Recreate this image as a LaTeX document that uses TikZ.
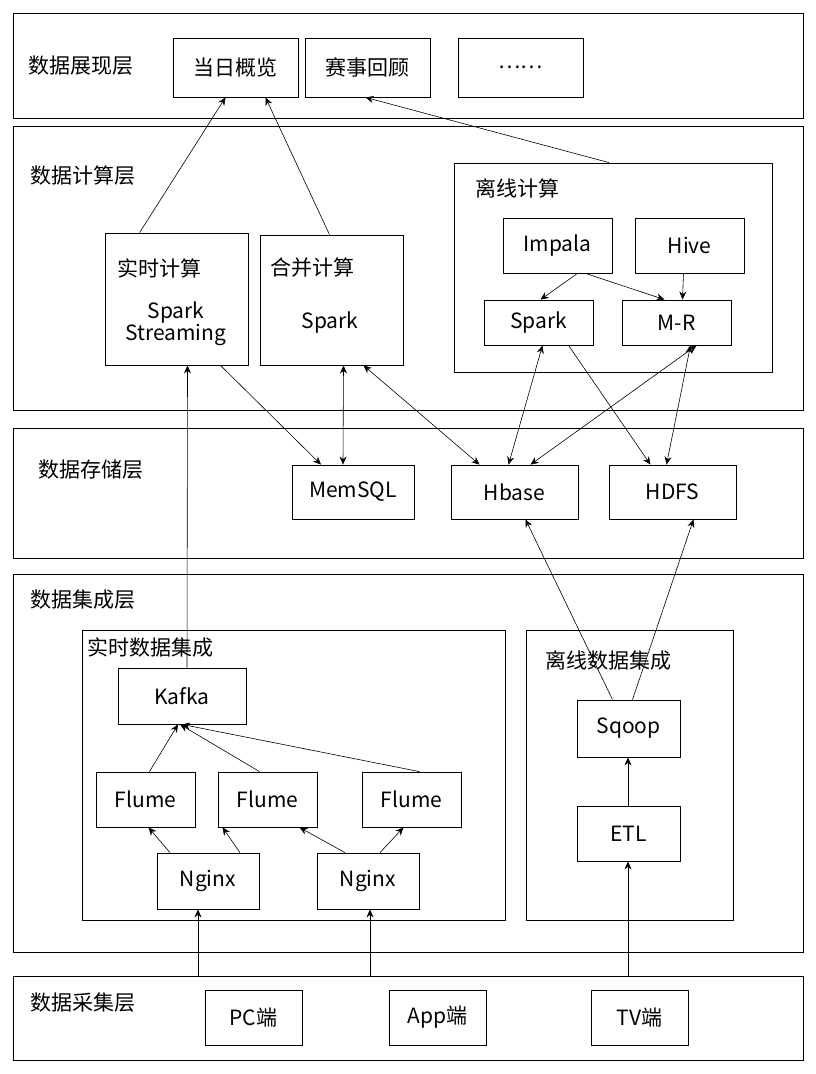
\documentclass[tikz,border=0pt]{standalone}
\usepackage{fontspec}
\setmainfont{Noto Sans CJK SC}
\usetikzlibrary{arrows.meta}
\tikzset{
  bx/.style={draw, thick, inner sep=0pt, font=\fontsize{21pt}{24pt}\selectfont, align=center},
  lbl/.style={inner sep=0pt, anchor=west, font=\fontsize{21pt}{24pt}\selectfont},
  ar/.style={-{Stealth[length=8pt,width=7pt]}, semithick},
  br/.style={{Stealth[length=8pt,width=7pt]}-{Stealth[length=8pt,width=7pt]}, semithick}
}
% \bx{name}{x1}{y1}{x2}{y2}{text}
\newcommand{\bxn}[6]{\node[bx, minimum width={(#4-#2)*1pt}, minimum height={(#5-#3)*1pt}]
  (#1) at ({(#2+#4)/2},{(#3+#5)/2}) {#6};}
\begin{document}
\begin{tikzpicture}[x={(1pt,0)}, y={(0,-1pt)}]
\useasboundingbox (0,0) rectangle (816,1074);
% layers
\bxn{L1}{13}{13}{803}{118}{}
\bxn{L2}{13}{126}{803}{410}{}
\bxn{L3}{13}{428}{803}{558}{}
\bxn{L4}{13}{574}{803}{952}{}
\bxn{L5}{13}{976}{803}{1060}{}
\node[lbl] (t1) at (28,66) {数据展现层};
\node[lbl] (t2) at (30,176) {数据计算层};
\node[lbl] (t3) at (38,470) {数据存储层};
\node[lbl] (t4) at (30,600) {数据集成层};
\node[lbl] (t5) at (30,1003) {数据采集层};
% presentation
\bxn{dr}{173}{38}{298}{97}{当日概览}
\bxn{ss}{305}{38}{430}{97}{赛事回顾}
\bxn{dd}{458}{38}{583}{97}{……}
% compute
\bxn{ss1}{105}{233}{248}{365}{}
\node[lbl] (ss1a) at (117,268) {实时计算};
\node[bx, draw=none] (ss1b) at (176,324) {Spark\\[-2pt]Streaming};
\bxn{hb}{260}{235}{403}{365}{}
\node[lbl] (hba) at (270,268) {合并计算};
\node[bx, draw=none] (hbb) at (330,323) {Spark};
\bxn{lx}{454}{163}{772}{372}{}
\node[lbl] (lxa) at (475,188) {离线计算};
\bxn{imp}{503}{218}{612}{273}{Impala}
\bxn{hive}{635}{218}{744}{273}{Hive}
\bxn{spk}{484}{300}{593}{345}{Spark}
\bxn{mr}{622}{300}{731}{345}{M-R}
% storage
\bxn{mem}{292}{465}{414}{519}{MemSQL}
\bxn{hbase}{451}{465}{578}{519}{Hbase}
\bxn{hdfs}{609}{465}{736}{519}{HDFS}
% integration
\bxn{rt}{82}{630}{505}{920}{}
\node[lbl] (rta) at (87,648) {实时数据集成};
\bxn{kafka}{118}{668}{246}{724}{Kafka}
\bxn{f1}{96}{772}{195}{827}{Flume}
\bxn{f2}{218}{772}{317}{827}{Flume}
\bxn{f3}{362}{772}{461}{827}{Flume}
\bxn{n1}{157}{853}{259}{909}{Nginx}
\bxn{n2}{317}{853}{419}{909}{Nginx}
\bxn{off}{526}{630}{733}{920}{}
\node[lbl] (offa) at (545,661) {离线数据集成};
\bxn{sq}{577}{700}{680}{757}{Sqoop}
\bxn{etl}{577}{806}{680}{861}{ETL}
% collection
\bxn{pc}{205}{990}{302}{1045}{PC端}
\bxn{app}{389}{990}{486}{1045}{App端}
\bxn{tv}{591}{990}{688}{1045}{TV端}
\coordinate (c1) at (198,976);
\coordinate (c2) at (370,976);
\coordinate (c3) at (628,976);
% connectors
\draw[ar] (ss1.north west) ++(35,0) -- ([xshift=-10pt]dr.south);
\draw[ar] (hb.north) ++(-2,0) -- ([xshift=30pt]dr.south);
\draw[ar] (lx.north) ++(-4,0) -- ([xshift=-2pt]ss.south);
\draw[ar] ([xshift=20pt]imp.south) -- ([xshift=2pt]spk.north);
\draw[ar] ([xshift=28pt]imp.south) -- ([xshift=-12pt]mr.north);
\draw[ar] ([xshift=-6pt]hive.south) -- ([xshift=6pt]mr.north);
\draw[br] ([xshift=4pt]spk.south) -- ([xshift=-6pt]hbase.north);
\draw[br] ([xshift=20pt]mr.south) -- ([xshift=16pt]hbase.north);
\draw[br] ([xshift=14pt]mr.south) -- ([xshift=-6pt]hdfs.north) ;
\draw[ar] ([xshift=30pt]spk.south) -- ([xshift=-22pt]hdfs.north);
\draw[ar] ([xshift=44pt]ss1.south) -- ([xshift=-32pt]mem.north);
\draw[br] ([xshift=12pt]hb.south) -- ([xshift=-10pt]mem.north);
\draw[br] ([xshift=32pt]hb.south) -- ([xshift=-35pt]hbase.north);
\draw[ar] ([xshift=-16pt]sq.north) -- ([xshift=11pt]hbase.south);
\draw[ar] ([xshift=4pt]sq.north) -- ([xshift=21pt]hdfs.south);
\draw[ar] ([xshift=-0.5pt]etl.north) -- ([xshift=-0.5pt]sq.south);
\draw[ar] (c3) -- ([xshift=-0.5pt]etl.south);
\draw[ar] ([xshift=5pt]kafka.north) -- ([xshift=11pt]ss1.south);
\draw[ar] ([xshift=4pt]f1.north) -- ([xshift=-4pt]kafka.south);
\draw[ar] ([xshift=-8pt]f2.north) -- ([xshift=-2pt]kafka.south);
\draw[ar] ([xshift=8pt]f3.north) -- ([xshift=0pt]kafka.south);
\draw[ar] ([xshift=-38pt]n1.north) -- ([xshift=3pt]f1.south);
\draw[ar] ([xshift=32pt]n1.north) -- ([xshift=-45pt]f2.south);
\draw[ar] ([xshift=-23pt]n2.north) -- ([xshift=32pt]f2.south);
\draw[ar] ([xshift=12pt]n2.north) -- ([xshift=-8pt]f3.south);
\draw[ar] (c1) -- (c1 |- n1.south);
\draw[ar] (c2) -- (c2 |- n2.south);
\end{tikzpicture}
\end{document}
